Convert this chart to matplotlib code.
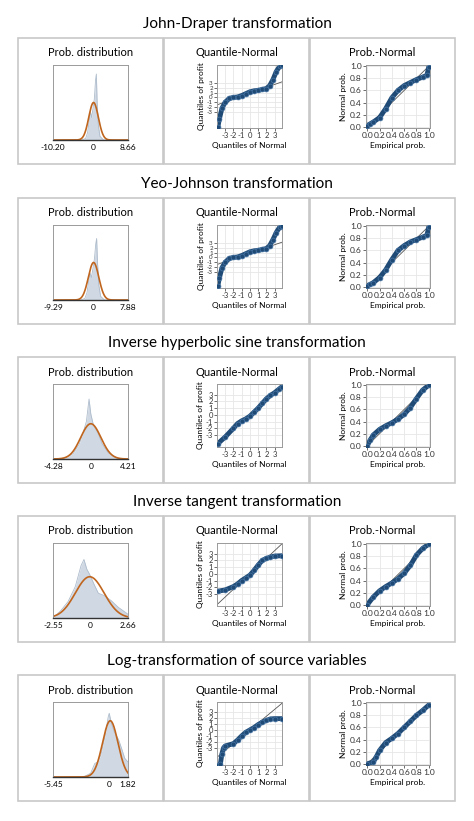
import numpy as np
import matplotlib
matplotlib.use("Agg")
import matplotlib.pyplot as plt
from matplotlib.patches import Rectangle

plt.rcParams['font.family'] = ['Lato', 'DejaVu Sans']
plt.rcParams['axes.unicode_minus'] = False

titles = ["John-Draper transformation", "Yeo-Johnson transformation",
          "Inverse hyperbolic sine transformation", "Inverse tangent transformation",
          "Log-transformation of source variables"]
hist_ranges = [(-10.20, 8.66), (-9.29, 7.88), (-4.28, 4.21), (-2.55, 2.66), (-5.45, 1.82)]
hist_range_labels = [("-10.20", "8.66"), ("-9.29", "7.88"), ("-4.28", "4.21"), ("-2.55", "2.66"), ("-5.45", "1.82")]

dens_x = [
    [-10.2, -3, -2, -1.5, -1, -0.8, -0.5, -0.2, 0.2, 0.5, 0.7, 0.9, 1.2, 1.6, 2.5, 8.66],
    [-9.29, -3, -2, -1.5, -1, -0.8, -0.5, -0.2, 0.2, 0.5, 0.7, 0.9, 1.2, 1.6, 2.5, 7.88],
    [-4.28, -3, -2, -1.3, -0.8, -0.5, -0.2, 0, 0.3, 0.8, 1.3, 2, 3, 4.21],
    [-2.55, -2, -1.5, -1, -0.6, -0.4, -0.2, 0, 0.3, 0.6, 1, 1.5, 2, 2.3, 2.66],
    [-5.45, -2.5, -1.8, -1.4, -1.1, -0.8, -0.4, -0.1, 0, 0.2, 0.5, 0.9, 1.2, 1.5, 1.82],
]
dens_y = [
    [0, 0, 0.02, 0.1, 0.3, 0.38, 0.3, 0.4, 0.55, 0.8, 0.88, 0.5, 0.2, 0.05, 0, 0],
    [0, 0, 0.02, 0.1, 0.3, 0.36, 0.3, 0.4, 0.55, 0.75, 0.82, 0.5, 0.2, 0.05, 0, 0],
    [0, 0.01, 0.07, 0.2, 0.38, 0.5, 0.8, 0.6, 0.45, 0.35, 0.2, 0.08, 0.01, 0],
    [0, 0.1, 0.22, 0.42, 0.7, 0.78, 0.65, 0.58, 0.45, 0.33, 0.3, 0.23, 0.14, 0.1, 0.05],
    [0, 0, 0.05, 0.18, 0.2, 0.3, 0.55, 0.8, 0.85, 0.72, 0.6, 0.5, 0.38, 0.25, 0.2],
]
# fitted normal: mean, sd, peak height (axes fraction)
norm_fit = [(0.0, 1.2, 0.5), (0.0, 1.2, 0.5), (0.0, 1.15, 0.47), (0.0, 1.0, 0.55), (0.1, 0.75, 0.75)]

qq_x = [
    [-3.9, -3.7, -3.4, -3.0, -2.5, -2.0, -1.5, -1.0, -0.5, 0, 0.5, 1, 1.5, 2, 2.4, 2.8, 3.2, 3.6, 3.9],
    [-3.9, -3.7, -3.4, -3.0, -2.5, -2.0, -1.5, -1.0, -0.5, 0, 0.5, 1, 1.5, 2, 2.4, 2.8, 3.2, 3.6, 3.9],
    [-3.9, -3, -2, -1.5, -1, -0.5, 0, 0.5, 1, 1.5, 2, 2.5, 3, 3.5, 3.9],
    [-3.9, -3, -2, -1.5, -1, -0.5, 0, 0.5, 1, 1.5, 2, 2.5, 3, 3.9],
    [-3.9, -3.6, -3.4, -3.2, -3, -2, -1.5, -1, -0.5, 0, 0.5, 1, 1.5, 2, 2.5, 3, 3.9],
]
qq_y = [
    [-6.3, -4.5, -2.3, -1.0, -0.2, 0.0, 0.1, 0.4, 0.8, 1.2, 1.4, 1.5, 1.7, 1.9, 2.5, 3.8, 5.5, 6.6, 6.9],
    [-6.0, -4.3, -2.2, -1.0, -0.2, 0.0, 0.1, 0.4, 0.8, 1.2, 1.4, 1.5, 1.7, 1.9, 2.5, 3.8, 5.3, 6.4, 6.7],
    [-4.3, -3.3, -2.0, -1.3, -0.9, -0.6, -0.2, 0.4, 1.0, 1.7, 2.4, 2.9, 3.3, 3.8, 4.2],
    [-2.6, -2.4, -1.9, -1.5, -1.0, -0.6, -0.2, 0.5, 1.3, 2.0, 2.3, 2.5, 2.65, 2.7],
    [-5.9, -5.8, -4.0, -3.0, -2.7, -2.3, -1.7, -1.0, -0.4, 0.0, 0.4, 0.9, 1.3, 1.6, 1.85, 1.9, 1.9],
]
qq_ylim = [(-6.5, 6.9), (-6.5, 6.9), (-4.8, 4.6), (-4.8, 4.6), (-5.9, 4.7)]
qq_ref = [(0.9, 0.62), (0.9, 0.6), (0.0, 1.1), (0.0, 1.15), (0.0, 1.15)]  # intercept, slope

pp_x = [
    [0, 0.05, 0.1, 0.2, 0.3, 0.4, 0.5, 0.6, 0.7, 0.8, 0.9, 0.97, 1.0],
    [0, 0.05, 0.1, 0.2, 0.3, 0.4, 0.5, 0.6, 0.7, 0.8, 0.9, 0.97, 1.0],
    [0, 0.05, 0.1, 0.2, 0.3, 0.4, 0.5, 0.6, 0.7, 0.8, 0.9, 1.0],
    [0, 0.1, 0.2, 0.3, 0.4, 0.5, 0.6, 0.7, 0.8, 0.9, 1.0],
    [0, 0.1, 0.15, 0.2, 0.3, 0.4, 0.5, 0.6, 0.7, 0.8, 0.9, 1.0],
]
pp_y = [
    [0.02, 0.05, 0.08, 0.15, 0.3, 0.48, 0.6, 0.68, 0.73, 0.78, 0.82, 0.85, 0.99],
    [0.02, 0.04, 0.07, 0.15, 0.28, 0.45, 0.6, 0.68, 0.74, 0.78, 0.82, 0.85, 0.99],
    [0, 0.1, 0.18, 0.27, 0.33, 0.38, 0.44, 0.52, 0.63, 0.78, 0.92, 1.0],
    [0, 0.13, 0.23, 0.3, 0.36, 0.43, 0.52, 0.65, 0.82, 0.93, 1.0],
    [0, 0.03, 0.12, 0.22, 0.35, 0.42, 0.5, 0.6, 0.7, 0.8, 0.88, 0.97],
]

W, H = 474, 821
fig = plt.figure(figsize=(W / 100, H / 100), dpi=100)
fig.patch.set_facecolor('white')

def ax_px(l, t, r, b):
    return fig.add_axes([l / W, 1 - b / H, (r - l) / W, (b - t) / H])

DARK = '#1f4a75'
GRID = '#e6e6e6'
FRAME = '#9a9a9a'
box_tops = [38, 198, 357, 516, 675]
cols = [(18, 163), (164, 309), (310, 455)]

for i in range(5):
    bt = box_tops[i]
    bb = bt + 126
    fig.text(237 / W, 1 - (bt - 14) / H, titles[i], ha='center', va='center', fontsize=11)
    for (l, r) in cols:
        fig.add_artist(Rectangle((l / W, 1 - bb / H), (r - l) / W, (bb - bt) / H,
                                 transform=fig.transFigure, fill=False, ec='#c8c8c8', lw=1.2))
    sub = ["Prob. distribution", "Quantile-Normal", "Prob.-Normal"]
    for k, (l, r) in enumerate(cols):
        fig.text((l + r) / 2 / W, 1 - (bt + 15) / H, sub[k], ha='center', va='center', fontsize=8)

    # histogram / density
    ax = ax_px(53, bt + 27, 128, bt + 102)
    lo, hi = hist_ranges[i]
    ax.fill_between(dens_x[i], dens_y[i], color='#cfd8e3', lw=0)
    ax.plot(dens_x[i], dens_y[i], color='#aebccc', lw=0.6)
    mu, sd, pk = norm_fit[i]
    xs = np.linspace(lo, hi, 300)
    ax.plot(xs, pk * np.exp(-0.5 * ((xs - mu) / sd) ** 2), color='#c0651e', lw=1.2)
    ax.set_xlim(lo, hi)
    ax.set_ylim(0, 1)
    ax.set_yticks([])
    ax.set_xticks([lo, 0, hi])
    ax.set_xticklabels([hist_range_labels[i][0], "0", hist_range_labels[i][1]])
    ax.tick_params(axis='x', labelsize=6, length=0, pad=3)
    for s in ax.spines.values():
        s.set_color(FRAME); s.set_linewidth(0.7)
    ax.spines['bottom'].set_color('#333333'); ax.spines['bottom'].set_linewidth(1.0)

    # QQ plot
    ax = ax_px(217, bt + 27, 282, bt + 90)
    ax.set_xlim(-4.0, 3.9)
    ax.set_ylim(*qq_ylim[i])
    ax.set_xticks([-3, -2, -1, 0, 1, 2, 3])
    ax.set_yticks([-3, -2, -1, 0, 1, 2, 3])
    ax.grid(True, color=GRID, lw=0.6)
    ax.set_axisbelow(True)
    a, b = qq_ref[i]
    ax.plot([-4.0, 3.9], [a + b * -4.0, a + b * 3.9], color='#555555', lw=0.6, zorder=1)
    ax.plot(qq_x[i], qq_y[i], color=DARK, lw=3.5, zorder=2, solid_capstyle='round')
    ax.plot(qq_x[i], qq_y[i], 'o', ms=3.5, mfc=DARK, mec='#4a78a8', mew=0.5, zorder=3)
    ax.tick_params(labelsize=5.5, length=2, pad=1, colors='#333333', width=0.5)
    ax.tick_params(axis='y', labelsize=4.5 if i < 2 else 5.5)
    ax.set_xlabel("Quantiles of Normal", fontsize=6, labelpad=2)
    ax.set_ylabel("Quantiles of profit", fontsize=6, labelpad=1)
    for s in ax.spines.values():
        s.set_color(FRAME); s.set_linewidth(0.7)

    # PP plot
    ax = ax_px(366, bt + 27, 430, bt + 90)
    ax.set_xlim(-0.02, 1.02)
    ax.set_ylim(-0.02, 1.02)
    ticks = [0, 0.2, 0.4, 0.6, 0.8, 1.0]
    ax.set_xticks(ticks)
    ax.set_yticks(ticks)
    ax.set_xticklabels(["0.0", "0.2", "0.4", "0.6", "0.8", "1.0"])
    ax.set_yticklabels(["0.0", "0.2", "0.4", "0.6", "0.8", "1.0"])
    ax.grid(True, color=GRID, lw=0.6)
    ax.set_axisbelow(True)
    ax.plot([0, 1], [0, 1], color='#555555', lw=0.6, zorder=1)
    ax.plot(pp_x[i], pp_y[i], color=DARK, lw=3.5, zorder=2, solid_capstyle='round')
    ax.plot(pp_x[i], pp_y[i], 'o', ms=3.5, mfc=DARK, mec='#4a78a8', mew=0.5, zorder=3)
    ax.tick_params(labelsize=6, length=2, pad=1, colors='#333333', width=0.5)
    ax.set_xlabel("Empirical prob.", fontsize=6, labelpad=2)
    ax.set_ylabel("Normal prob.", fontsize=6, labelpad=2)
    for s in ax.spines.values():
        s.set_color(FRAME); s.set_linewidth(0.7)

fig.savefig("out.png", dpi=100, facecolor='white')
